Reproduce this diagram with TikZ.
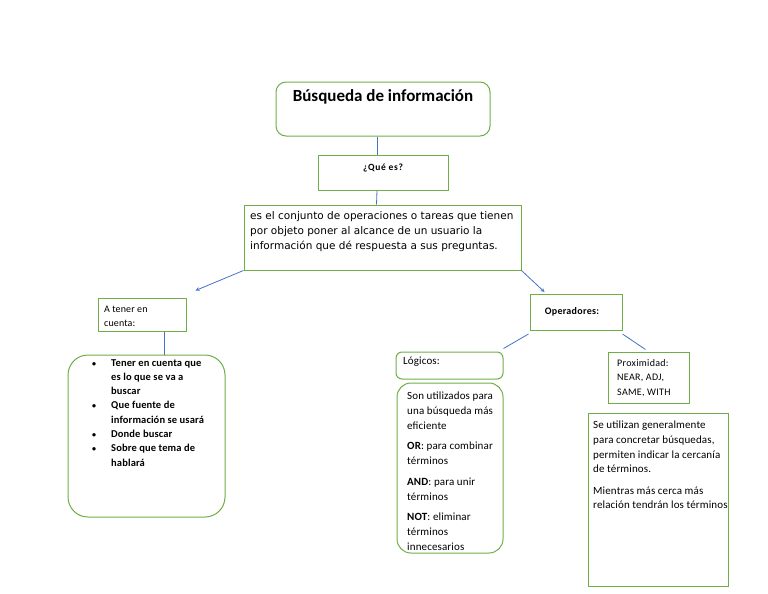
\documentclass[tikz,border=0pt]{standalone}
\usepackage{fontspec}
\setmainfont{Carlito}
\newfontfamily\deffont{DejaVu Sans}
\newfontfamily\listfont[LetterSpace=1.2]{Carlito}
\newfontfamily\widefont[LetterSpace=3]{Carlito}
\newfontfamily\widerfont[LetterSpace=7]{Carlito}
\definecolor{boxgreen}{HTML}{70AD47}
\definecolor{linkblue}{HTML}{4472C4}
\newcommand{\itembullet}{\makebox[19pt][l]{\fontsize{8}{8}\selectfont•}}
\newcommand{\itemcont}{\hspace*{19pt}}
\tikzset{
  greenbox/.style={draw=boxgreen, line width=1pt, inner sep=0pt},
  greenround/.style={greenbox, rounded corners=#1},
  bluelink/.style={draw=linkblue, line width=0.8pt},
  bluearrow/.style={bluelink, -stealth},
  txt/.style={inner sep=0pt, anchor=north west, align=left, font=\listfont\fontsize{11}{14.6}\selectfont}
}
\begin{document}
\begin{tikzpicture}[x=1pt, y=-1pt]
            \useasboundingbox (0,0) rectangle (768,594);

            % boxes
            \node[greenround=10pt, minimum width=214pt, minimum height=54pt] (title) at (383,109) {};
            \node[greenbox, minimum width=130pt, minimum height=35pt] (que) at (383,172.5) {};
            \node[greenbox, minimum width=277pt, minimum height=65pt] (def) at (382.5,237.5) {};
            \node[greenbox, minimum width=88pt, minimum height=33pt] (tener) at (142,314.5) {};
            \node[greenround=20pt, minimum width=157pt, minimum height=162pt] (tenerlist) at (146.5,436) {};
            \node[greenbox, minimum width=92pt, minimum height=36pt] (oper) at (576,312.5) {};
            \node[greenround=6pt, minimum width=107pt, minimum height=27pt] (logicos) at (449.5,365.5) {};
            \node[greenbox, minimum width=81pt, minimum height=51pt] (prox) at (648.5,377.5) {};
            \node[greenround=14pt, minimum width=106pt, minimum height=170pt] (logicoslist) at (450,468) {};
            \node[greenbox, minimum width=140pt, minimum height=173pt] (proxlist) at (658,499.5) {};

            % texts
            \node[font=\bfseries\fontsize{17}{20}\selectfont] (titletext) at (383,97) {Búsqueda de información};
            \node[font=\widerfont\bfseries\fontsize{9.5}{11}\selectfont] (quetext) at (383,168) {¿Qué es?};
            \node[txt, font=\deffont\fontsize{10.5}{15}\selectfont] (deftext) at (250,211)
                {es el conjunto de operaciones o tareas que tienen\\
                 por objeto poner al alcance de un usuario la\\
                 información que dé respuesta a sus preguntas.};
            \node[txt, font=\listfont\fontsize{10}{14}\selectfont] (tenertext) at (104,306) {A tener en\\cuenta:};
            \node[txt, font=\listfont\bfseries\fontsize{10.5}{14.3}\selectfont] (tenerlisttext) at (92,359)
                {\itembullet Tener en cuenta que\\ \itemcont es lo que se va a\\ \itemcont buscar\\
                 \itembullet Que fuente de\\ \itemcont información se usará\\
                 \itembullet Donde buscar\\
                 \itembullet Sobre que tema de\\ \itemcont hablará};
            \node[font=\widefont\bfseries\fontsize{10}{12}\selectfont] (opertext) at (572,312) {Operadores:};
            \node[txt] (logicostext) at (403,357) {Lógicos:};
            \node[txt, font=\listfont\fontsize{11}{14.7}\selectfont] (logicoslisttext) at (407,392)
                {Son utilizados para\\una búsqueda más\\eficiente\\[6pt]
                 \textbf{OR}: para combinar\\términos\\[6pt]
                 \textbf{AND}: para unir\\términos\\[6pt]
                 \textbf{NOT}: eliminar\\términos\\innecesarios};
            \node[txt, font=\widefont\fontsize{10}{14.7}\selectfont] (proxtext) at (617,359) {Proximidad:\\NEAR, ADJ,\\SAME, WITH};
            \node[txt] (proxlisttext) at (593,421)
                {Se utilizan generalmente\\para concretar búsquedas,\\permiten indicar la cercanía\\de términos.\\[7pt]
                 Mientras más cerca más\\relación tendrán los términos};

            % connectors
            \draw[bluelink] ([xshift=-6pt]title.south) -- ([xshift=-6pt]que.north);
            \draw[bluelink] ([xshift=-6pt]que.south) -- ([xshift=-6pt]def.north);
            \draw[bluearrow] (def.south west) -- ([shift={(9,-7)}]tener.north east);
            \draw[bluearrow] (def.south east) -- ([shift={(15,-2)}]oper.north west);
            \coordinate (tenerdrop) at ([xshift=22pt]tener.south);
            \draw[bluelink] (tenerdrop) -- (tenerdrop |- tenerlist.north);
            \draw[bluelink] ([shift={(0,-3)}]logicos.north east) -- ([shift={(-1,3)}]oper.south west);
            \draw[bluelink] ([shift={(0,3)}]oper.south east) -- ([shift={(-3,-2)}]prox.north);
        \end{tikzpicture}
\end{document}
